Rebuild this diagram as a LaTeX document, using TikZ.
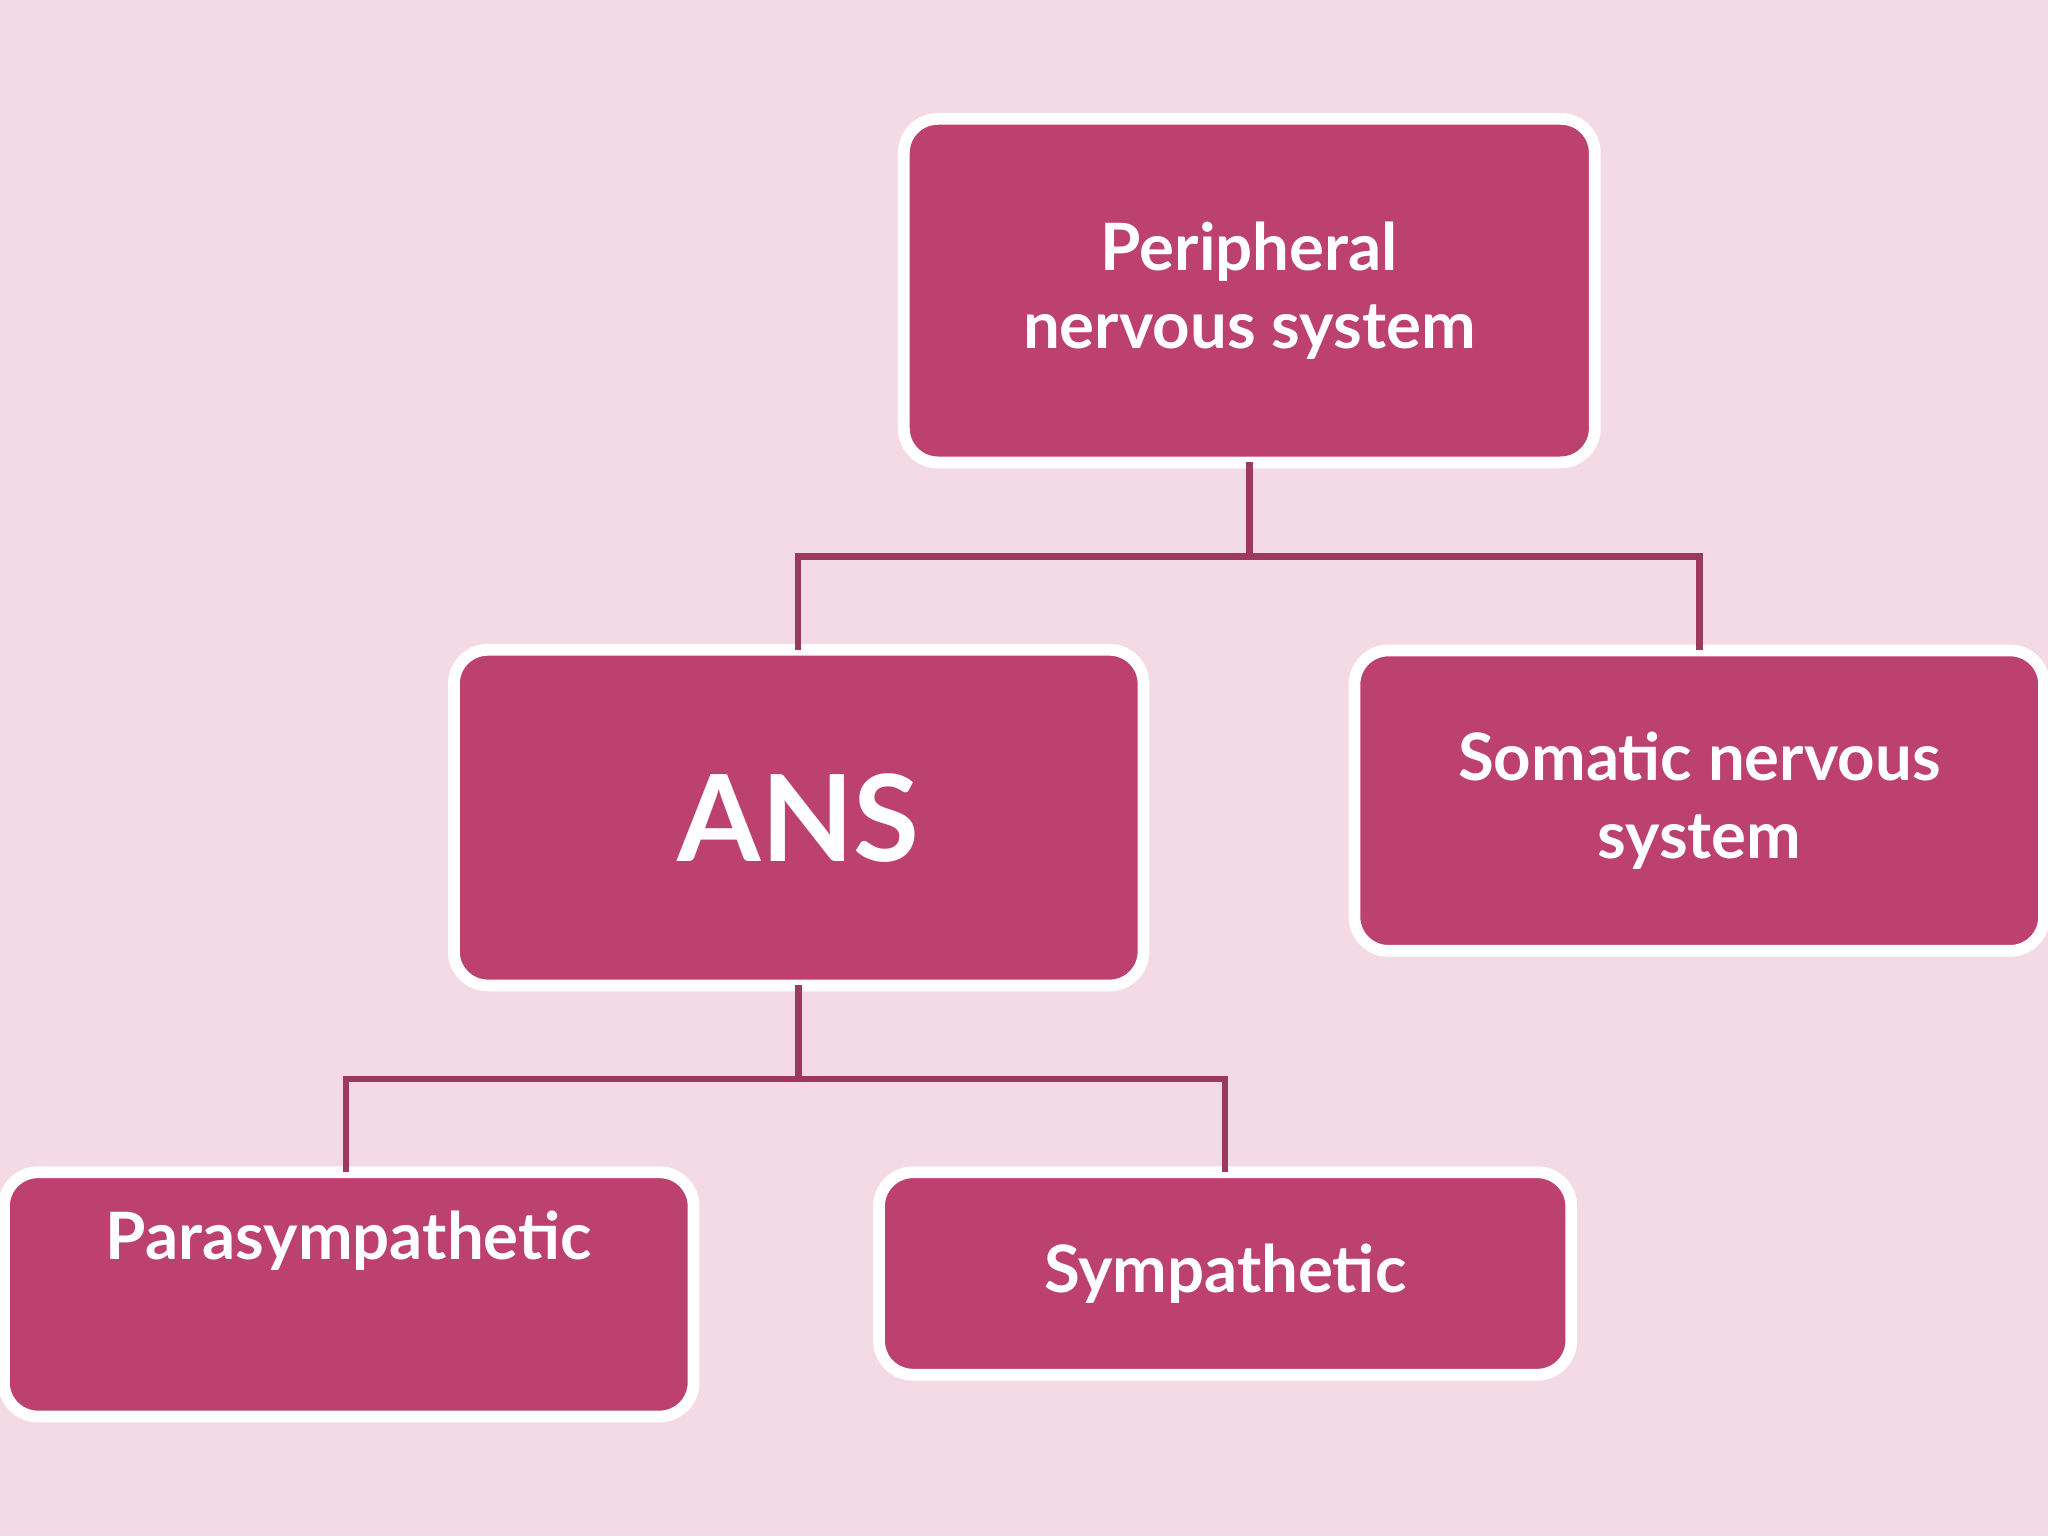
\documentclass[tikz,border=0pt]{standalone}
\usepackage{fontspec}
\setmainfont{Lato}
\definecolor{bg}{HTML}{F3DAE5}
\definecolor{boxfill}{HTML}{BD416F}
\definecolor{conn}{HTML}{9C3A5E}
\begin{document}
\begin{tikzpicture}[x=1pt,y=-1pt,
  box/.style={draw=white,line width=9pt,fill=boxfill,rounded corners=26pt,inner sep=0pt,
    text=white,font=\bfseries\fontsize{50}{60}\selectfont,align=center},
  link/.style={draw=conn,line width=5pt}]
\fill[bg] (0,0) rectangle (1568,1176);
\useasboundingbox (0,0) rectangle (1568,1176);
\node[box,minimum width=529pt,minimum height=263pt] (pns) at (956.5,222.5) {Peripheral\\nervous system};
\node[box,minimum width=528pt,minimum height=257pt,font=\bfseries\fontsize{92}{100}\selectfont] (ans) at (611.5,626) {ANS};
\node[box,minimum width=528pt,minimum height=230pt] (som) at (1301,613) {Somatic nervous\\system};
\node[box,minimum width=528pt,minimum height=187pt] (para) at (267,991) {};
\node[text=white,font=\bfseries\fontsize{50}{60}\selectfont] (paratext) at (267,950) {Parasympathetic};
\node[box,minimum width=530pt,minimum height=155pt] (symp) at (938,975) {Sympathetic};
\coordinate (j1) at (956.5,426);
\coordinate (j2) at (611.5,826);
\draw[link] ([yshift=4.5pt]pns.south) -- (j1) -| ([yshift=-4.5pt]ans.north -| 611,0);
\draw[link] (j1) -| ([yshift=-4.5pt]som.north);
\draw[link] ([yshift=4.5pt]ans.south) -- (j2) -| ([yshift=-4.5pt]para.north -| 265,0);
\draw[link] (j2) -| ([yshift=-4.5pt]symp.north);
\end{tikzpicture}
\end{document}
